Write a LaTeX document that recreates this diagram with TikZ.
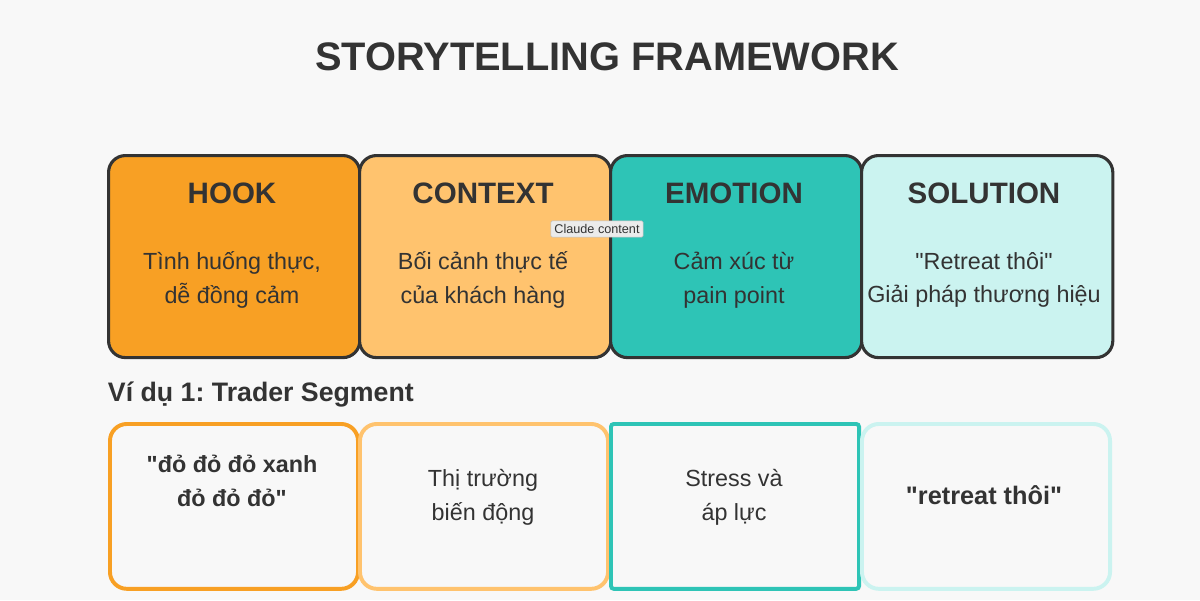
\documentclass[tikz,border=0pt]{standalone}
\usepackage{fontspec}
\setmainfont[Ligatures=TeXOff]{Liberation Sans}
\frenchspacing
\definecolor{bg}{HTML}{F8F8F8}
\definecolor{ink}{HTML}{333333}
\definecolor{hookc}{HTML}{F8A024}
\definecolor{contextc}{HTML}{FFC36E}
\definecolor{emotionc}{HTML}{2EC4B6}
\definecolor{solutionc}{HTML}{CBF3F0}
\begin{document}
\begin{tikzpicture}[x=0.025cm,y=-0.025cm,
        stage/.style={draw=ink, line width=2.2pt, rounded corners=12pt, minimum width=6.28cm, minimum height=5.05cm, anchor=north west},
        example/.style={line width=2.8pt, rounded corners=12pt, fill=bg, minimum width=6.2cm, minimum height=4.12cm, anchor=north west},
        head/.style={font=\fontsize{21}{24}\selectfont\bfseries, text=ink},
        body/.style={font=\fontsize{16.6}{24}\selectfont, text=ink, align=center},
        ]
        \fill[bg] (0,0) rectangle (1200,600);
        \useasboundingbox (0,0) rectangle (1200,600);
        \node[font=\fontsize{28.3}{34}\selectfont\bfseries, text=ink] (title) at (607,57) {STORYTELLING FRAMEWORK};
        % top row
        \node[stage, fill=hookc] (hook) at (107,154) {};
        \node[stage, fill=contextc] (context) at (358,154) {};
        \node[stage, fill=emotionc] (emotion) at (609,154) {};
        \node[stage, fill=solutionc] (solution) at (860,154) {};
        \node[head] (hookh) at (232,193) {HOOK};
        \node[head] (contexth) at (483,193) {CONTEXT};
        \node[head] (emotionh) at (734,193) {EMOTION};
        \node[head] (solutionh) at (984,193) {SOLUTION};
        \node[body] (hookt) at (232,280) {Tình huống thực,\\dễ đồng cảm};
        \node[body] (contextt) at (483,280) {Bối cảnh thực tế\\của khách hàng};
        \node[body] (emotiont) at (734,280) {Cảm xúc từ\\pain point};
        \node[body] (solutiont) at (984,280) {"Retreat thôi"\\Giải pháp thương hiệu};
        \node[draw=black!25, fill=black!8, rounded corners=1pt, inner sep=2.5pt, font=\fontsize{9}{10}\selectfont, text=ink] (tip) at (597,229) {Claude content};
        % example row
        \node[font=\fontsize{19}{20}\selectfont\bfseries, text=ink, anchor=west] (label) at (103,395) {Ví dụ 1: Trader Segment};
        \node[example, draw=hookc] (ex1) at (108,422) {};
        \node[example, draw=contextc] (ex2) at (358,422) {};
        \node[example, draw=emotionc, rounded corners=2pt] (ex3) at (609,422) {};
        \node[example, draw=solutionc] (ex4) at (860,422) {};
        \node[body, font=\fontsize{16.6}{24}\selectfont\bfseries] (ex1t) at (232,481) {"đỏ đỏ đỏ xanh\\đỏ đỏ đỏ"};
        \node[body] (ex2t) at (483,497) {Thị trường\\biến động};
        \node[body] (ex3t) at (734,497) {Stress và\\áp lực};
        \node[body, font=\fontsize{18}{24}\selectfont\bfseries] (ex4t) at (984,495) {"retreat thôi"};
\end{tikzpicture}
\end{document}
